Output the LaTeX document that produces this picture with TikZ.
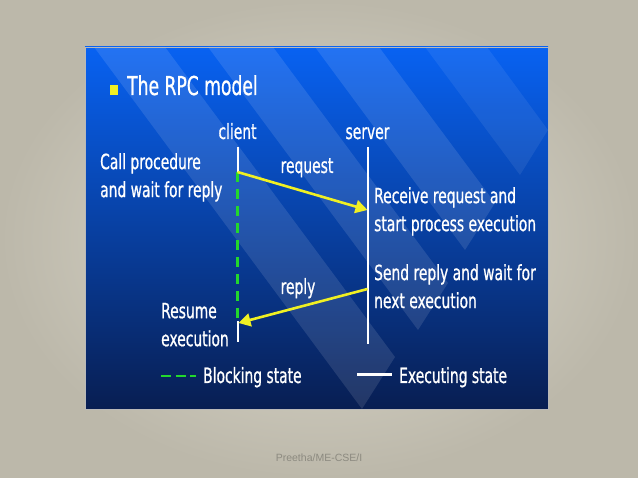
\documentclass[tikz,border=0pt]{standalone}
\usepackage{fontspec}
\setmainfont{DejaVu Sans}[FakeStretch=0.66,FakeBold=0.7]
\newfontfamily\footfont{Liberation Sans}
\usetikzlibrary{arrows.meta}

\definecolor{slidelight}{RGB}{222,219,207}
\definecolor{slidedark}{RGB}{188,184,170}
\definecolor{paneltop}{RGB}{8,98,242}
\definecolor{panelmid}{RGB}{12,72,180}
\definecolor{panelbot}{RGB}{8,30,82}
\definecolor{rpcyellow}{RGB}{240,240,35}
\definecolor{rpcgreen}{RGB}{35,215,45}
\definecolor{footgray}{RGB}{140,138,128}

\tikzset{
  lbl/.style={text=white,inner sep=0pt,font=\fontsize{21}{28}\selectfont},
  msg/.style={rpcyellow,line width=2.6pt,-{Triangle[length=12pt,width=13pt]}},
  execline/.style={white,line width=2pt},
  blockline/.style={rpcgreen,line width=2.6pt,dash pattern=on 10pt off 7pt},
  ribbon/.style={white,opacity=0.11},
}

\begin{document}
\begin{tikzpicture}[x=1pt,y=-1pt]
    \useasboundingbox (0,0) rectangle (638,478);
    \shade[inner color=slidelight,outer color=slidedark] (0,0) rectangle (638,478);

%panel
    \shade[top color=paneltop,middle color=panelmid,bottom color=panelbot] (85,47) rectangle (548,409);
    \begin{scope}
        \clip (85,47) rectangle (548,409);
        \fill[ribbon] (94,47) -- (362,409) -- (395,357) -- (165,47) -- cycle;
        \fill[ribbon] (208,47) -- (418,330) -- (448,283) -- (273,47) -- cycle;
        \fill[ribbon] (315,47) -- (465,250) -- (495,203) -- (379,47) -- cycle;
        \fill[ribbon,opacity=0.07] (425,47) -- (520,175) -- (548,130) -- (487,47) -- cycle;
    \end{scope}
    \draw[color=gray!55,line width=0.8pt] (85,47) rectangle (548,409);

%title
    \node[fill=rpcyellow,minimum width=8pt,minimum height=10pt,inner sep=0pt] (bullet) at (114,90) {};
    \node[lbl,font=\fontsize{26}{32}\selectfont,anchor=base west] (title) at (127,95) {The RPC model};

%lifelines
    \node[lbl,anchor=base] (client) at (237.5,139) {client};
    \node[lbl,anchor=base] (server) at (367.5,139) {server};
    \coordinate (c-top) at (237.5,147);
    \coordinate (c-call) at (237.5,172);
    \coordinate (c-resume) at (237.5,321);
    \coordinate (c-end) at (237.5,342);
    \coordinate (s-top) at (367.5,147);
    \coordinate (s-recv) at (367.5,210);
    \coordinate (s-send) at (367.5,289);
    \coordinate (s-end) at (367.5,344);

    \draw[execline] (c-top) -- (c-call);
    \draw[blockline] (c-call) -- (c-resume);
    \draw[execline] (c-resume) -- (c-end);
    \draw[execline] (s-top) -- (s-end);

%messages
    \draw[msg] (c-call) -- (s-recv);
    \draw[msg] (s-send) -- ([xshift=1pt,yshift=-2pt]c-resume);
    \node[lbl,anchor=base] (request) at (307,173) {request};
    \node[lbl,anchor=base] (reply) at (298,294) {reply};

%notes
    \node[lbl,align=left,anchor=north west] (call) at (100,153) {Call procedure\\and wait for reply};
    \node[lbl,align=left,anchor=north west] (recv) at (374,187) {Receive request and\\start process execution};
    \node[lbl,align=left,anchor=north west] (send) at (374,264) {Send reply and wait for\\next execution};
    \node[lbl,align=left,anchor=north west] (resume) at (161,302.7) {Resume\\execution};

%legend
    \coordinate (leg-b1) at (161,376);
    \coordinate (leg-b2) at (196,376);
    \draw[blockline,dash pattern=on 10pt off 4.5pt] (leg-b1) -- (leg-b2);
    \node[lbl,anchor=base west] (leg-block) at (203,383) {Blocking state};
    \coordinate (leg-e1) at (357,375);
    \coordinate (leg-e2) at (392,375);
    \draw[white,line width=3pt] (leg-e1) -- (leg-e2);
    \node[lbl,anchor=base west] (leg-exec) at (399,383) {Executing state};

    \node[text=footgray,font=\footfont\fontsize{10.5}{12}\selectfont,anchor=base] (footer) at (319,462) {Preetha/ME-CSE/I};
\end{tikzpicture}
\end{document}
